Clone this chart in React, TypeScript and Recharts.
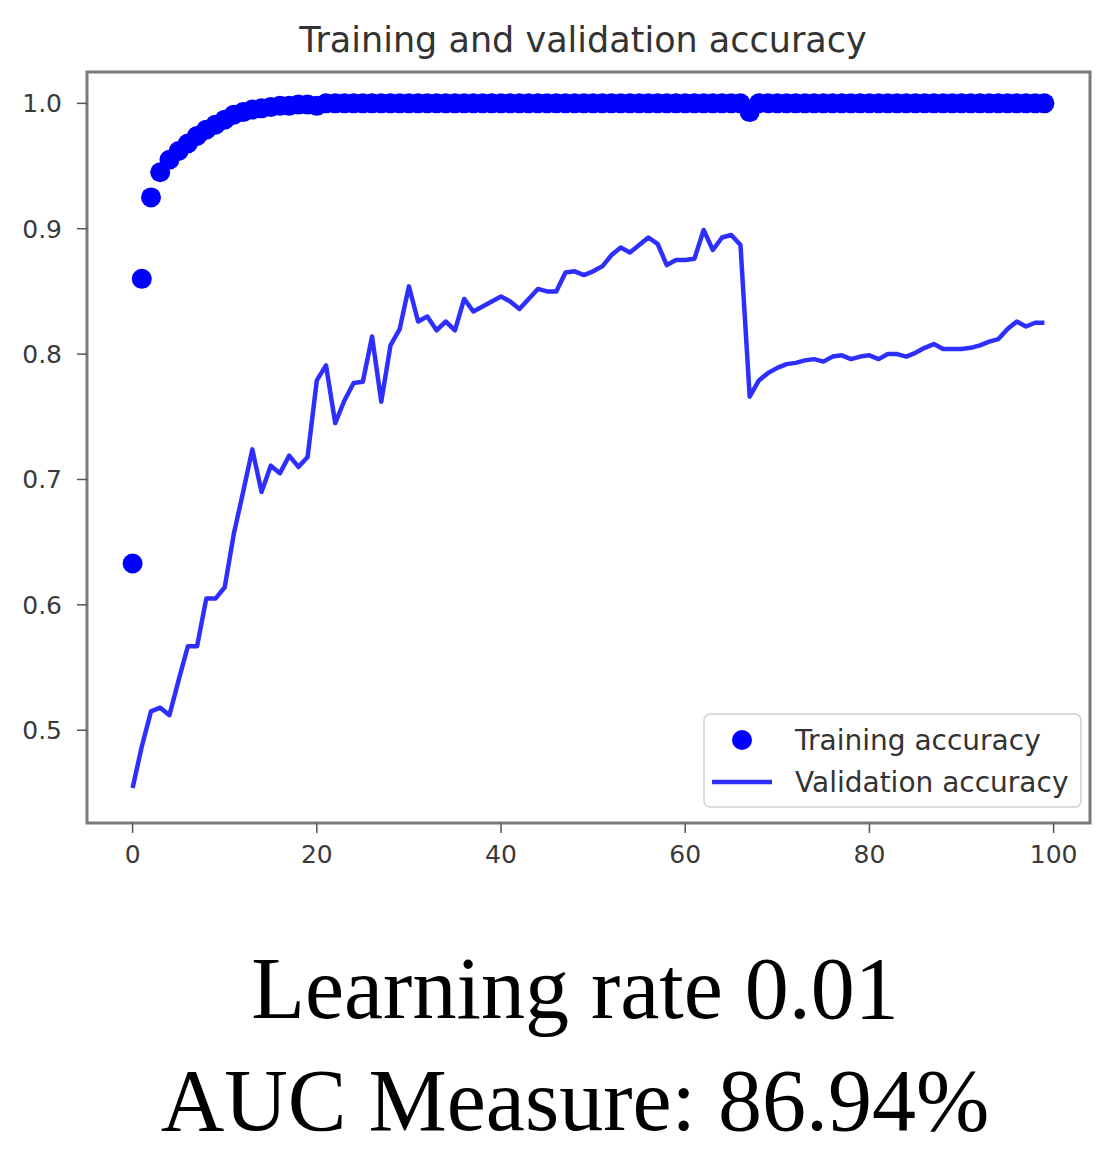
import { ComposedChart, Line, XAxis, YAxis, Legend, ReferenceArea } from 'recharts'

const epochs = Array.from({ length: 100 }, (_, i) => i)

const trainAcc = [
  0.633, 0.86, 0.925, 0.945, 0.955, 0.962, 0.968, 0.974, 0.979, 0.983,
  0.987, 0.991, 0.993, 0.995, 0.996, 0.997, 0.998, 0.998, 0.999, 0.999,
  0.998, 1.0, 1.0, 1.0, 1.0, 1.0, 1.0, 1.0, 1.0, 1.0,
  1.0, 1.0, 1.0, 1.0, 1.0, 1.0, 1.0, 1.0, 1.0, 1.0,
  1.0, 1.0, 1.0, 1.0, 1.0, 1.0, 1.0, 1.0, 1.0, 1.0,
  1.0, 1.0, 1.0, 1.0, 1.0, 1.0, 1.0, 1.0, 1.0, 1.0,
  1.0, 1.0, 1.0, 1.0, 1.0, 1.0, 1.0, 0.993, 1.0, 1.0,
  1.0, 1.0, 1.0, 1.0, 1.0, 1.0, 1.0, 1.0, 1.0, 1.0,
  1.0, 1.0, 1.0, 1.0, 1.0, 1.0, 1.0, 1.0, 1.0, 1.0,
  1.0, 1.0, 1.0, 1.0, 1.0, 1.0, 1.0, 1.0, 1.0, 1.0,
]

const valAcc = [
  0.454, 0.487, 0.515, 0.518, 0.512, 0.54, 0.567, 0.567, 0.605, 0.605,
  0.614, 0.657, 0.69, 0.724, 0.69, 0.711, 0.705, 0.719, 0.71, 0.718,
  0.779, 0.791, 0.745, 0.763, 0.777, 0.778, 0.814, 0.762, 0.807, 0.82,
  0.854, 0.826, 0.83, 0.819, 0.826, 0.819, 0.844, 0.834, 0.838, 0.842,
  0.846, 0.842, 0.836, 0.844, 0.852, 0.85, 0.85, 0.865, 0.866, 0.863,
  0.866, 0.87, 0.879, 0.885, 0.881, 0.887, 0.893, 0.888, 0.871, 0.875,
  0.875, 0.876, 0.899, 0.883, 0.893, 0.895, 0.887, 0.766, 0.779, 0.785,
  0.789, 0.792, 0.793, 0.795, 0.796, 0.794, 0.798, 0.799, 0.796, 0.798,
  0.799, 0.796, 0.8, 0.8, 0.798, 0.801, 0.805, 0.808, 0.804, 0.804,
  0.804, 0.805, 0.807, 0.81, 0.812, 0.82, 0.826, 0.822, 0.825, 0.825,
]

const xTicks = [0, 20, 40, 60, 80, 100]
const yTicks = [0.5, 0.6, 0.7, 0.8, 0.9, 1.0]
const xDomain = [-4.95, 103.95]
const yDomain = [0.426, 1.025]

const data = epochs.map((e, i) => ({ epoch: e, train: trainAcc[i], val: valAcc[i] }))

const FONT = '"DejaVu Sans", sans-serif'
const SERIF = '"Liberation Serif", "Times New Roman", serif'
const FRAME = '#7a7a7a'

const LegendBox = ({ payload }: any) => {
  if (!payload?.length) return null
  return (
    <svg width={380} height={96} style={{ display: 'block' }}>
      <rect x={1} y={1} width={377} height={93} rx={6} fill="#fff" stroke="#d0d0d0" strokeWidth={1.5} />
      {payload.map((p: any, i: number) => {
        const cy = i === 0 ? 27 : 69
        return (
          <g key={i}>
            {i === 0 ? (
              <circle cx={39} cy={cy} r={10} fill="#0000ff" />
            ) : (
              <line x1={9} x2={69} y1={cy} y2={cy} stroke="#2e2eff" strokeWidth={4.5} />
            )}
            <text x={92} y={cy + 10} fontFamily={FONT} fontSize={28} fill="#333">
              {p.value}
            </text>
          </g>
        )
      })}
    </svg>
  )
}

export default function App() {
  return (
    <div style={{ position: 'absolute', left: 0, top: 0, width: 1119, height: 1159, background: '#fff' }}>
      <ComposedChart
        width={1119}
        height={900}
        data={data}
        margin={{ top: 72, right: 29, left: 0, bottom: 0 }}
      >
        <XAxis
          dataKey="epoch"
          type="number"
          domain={xDomain}
          ticks={xTicks}
          height={77}
          tickSize={10}
          tickMargin={12}
          axisLine={false}
          tickLine={{ stroke: '#555', strokeWidth: 1.5 }}
          tick={{ fontFamily: FONT, fontSize: 25, fill: '#3a3a3a' }}
        />
        <YAxis
          type="number"
          domain={yDomain}
          ticks={yTicks}
          width={87}
          tickSize={10}
          tickMargin={15}
          tickFormatter={(v: number) => v.toFixed(1)}
          axisLine={false}
          tickLine={{ stroke: '#555', strokeWidth: 1.5 }}
          tick={{ fontFamily: FONT, fontSize: 25, fill: '#3a3a3a' }}
        />
        <ReferenceArea
          x1={xDomain[0]}
          x2={xDomain[1]}
          y1={yDomain[0]}
          y2={yDomain[1]}
          fill="none"
          stroke={FRAME}
          strokeWidth={3}
          ifOverflow="visible"
        />
        <Line
          name="Training accuracy"
          dataKey="train"
          stroke="none"
          dot={{ r: 10, fill: '#0000ff', stroke: 'none' }}
          activeDot={false}
          legendType="circle"
          isAnimationActive={false}
        />
        <Line
          name="Validation accuracy"
          dataKey="val"
          type="linear"
          stroke="#2e2eff"
          strokeWidth={4.5}
          strokeLinejoin="round"
          dot={false}
          activeDot={false}
          isAnimationActive={false}
        />
        <Legend
          layout="horizontal"
          verticalAlign="middle"
          content={<LegendBox />}
          wrapperStyle={{ left: 703, top: 713, width: 380, height: 96 }}
        />
      </ComposedChart>
      <svg
        width={1119}
        height={1159}
        style={{ position: 'absolute', left: 0, top: 0, pointerEvents: 'none' }}
      >
        <text x={583} y={52} textAnchor="middle" fontFamily={FONT} fontSize={35} fill="#333">
          Training and validation accuracy
        </text>
        <text x={575} y={1018} textAnchor="middle" fontFamily={SERIF} fontSize={88} fill="#000">
          Learning rate 0.01
        </text>
        <text x={575} y={1130} textAnchor="middle" fontFamily={SERIF} fontSize={88} fill="#000">
          AUC Measure: 86.94%
        </text>
      </svg>
    </div>
  )
}
